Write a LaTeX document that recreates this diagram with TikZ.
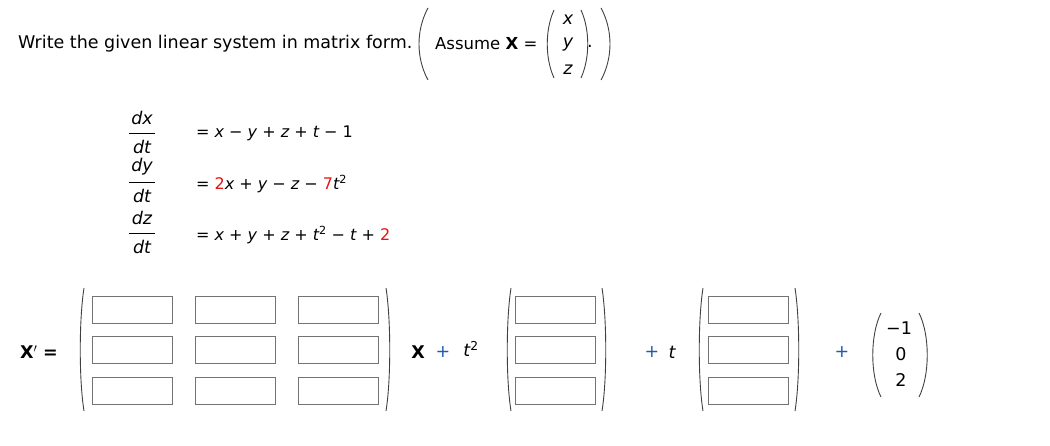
\documentclass[tikz,border=0pt]{standalone}
\usepackage{fontspec}
\setmainfont{DejaVu Sans}
\begin{document}
\begin{tikzpicture}[x=1pt,y=-1pt,
  every node/.style={inner sep=0pt,font=\fontsize{17.5}{20}\selectfont},
  eq/.style={font=\fontsize{16}{19}\selectfont},
  ab/.style={draw=black!55,line width=0.8pt,minimum width=80pt,minimum height=27pt},
  br/.style={line width=0.9pt,black!75}]
\useasboundingbox (0,0) rectangle (1050,446);
\definecolor{rd}{RGB}{230,20,20}
\definecolor{bl}{RGB}{30,90,180}
\node[anchor=west] (q) at (18,44) {Write the given linear system in matrix form.};
\draw[br] (428,8) .. controls (416,30) and (416,58) .. (428,80);
\node[anchor=west,font=\fontsize{16.5}{20}\selectfont] (as) at (435,44) {Assume \textbf{X} =};
\draw[br] (554,10) .. controls (545,30) and (545,58) .. (554,78);
\node (vx) at (568,20) {\itshape x};
\node (vy) at (568,45) {\itshape y};
\node (vz) at (568,70) {\itshape z};
\draw[br] (581,10) .. controls (590,30) and (590,58) .. (581,78);
\node (dot) at (590,46) {.};
\draw[br] (601,8) .. controls (613,30) and (613,58) .. (601,80);
% equations
\foreach \n/\v/\y in {a/x/133,b/y/182,c/z/233}{
  \node (n\n) at (142,\y-15) {\itshape d\v};
  \node (d\n) at (142,\y+14) {\itshape dt};
  \draw (129,\y) -- (155,\y);
}
\node[eq,anchor=west] (ea) at (196,133) {= \itshape x \upshape − \itshape y \upshape + \itshape z \upshape + \itshape t \upshape − 1};
\node[eq,anchor=west] (eb) at (196,184) {= \textcolor{rd}{2}\itshape x \upshape + \itshape y \upshape − \itshape z \upshape − \textcolor{rd}{7}\itshape t\textsuperscript{\upshape 2}};
\node[eq,anchor=west] (ec) at (196,235) {= \itshape x \upshape + \itshape y \upshape + \itshape z \upshape + \itshape t\textsuperscript{\upshape 2} \upshape − \itshape t \upshape + \textcolor{rd}{2}};
% bottom
\node[anchor=west] (xp) at (20,352) {\textbf{X}$'$ \textbf{=}};
\draw[br] (84,288) .. controls (79,320) and (79,380) .. (84,411);
\draw[br] (386,288) .. controls (391,320) and (391,380) .. (386,411);
\foreach \c/\x in {1/132,2/235,3/338}
  \foreach \r/\y in {1/310,2/350,3/391}
    \node[ab] (m\r\c) at (\x,\y) {};
\node (xb) at (418,352) {\textbf{X}};
\node (p1) at (443,352) {\textcolor{bl}{+}};
\node (t2) at (471,349) {\itshape t\textsuperscript{\upshape 2}};
\draw[br] (511,288) .. controls (506,320) and (506,380) .. (511,411);
\draw[br] (602,288) .. controls (607,320) and (607,380) .. (602,411);
\foreach \r/\y in {1/310,2/350,3/391} \node[ab] (u\r) at (555,\y) {};
\node (p2) at (652,352) {\textcolor{bl}{+}};
\node (t1) at (672,352) {\itshape t};
\draw[br] (703,288) .. controls (698,320) and (698,380) .. (703,411);
\draw[br] (795,288) .. controls (800,320) and (800,380) .. (795,411);
\foreach \r/\y in {1/310,2/350,3/391} \node[ab] (w\r) at (748,\y) {};
\node (p3) at (842,352) {\textcolor{bl}{+}};
\draw[br] (881,313) .. controls (870,335) and (870,375) .. (881,397);
\node (c1) at (899,328) {−1};
\node (c2) at (901,354) {0};
\node (c3) at (901,380) {2};
\draw[br] (919,313) .. controls (930,335) and (930,375) .. (919,397);
\end{tikzpicture}
\end{document}
